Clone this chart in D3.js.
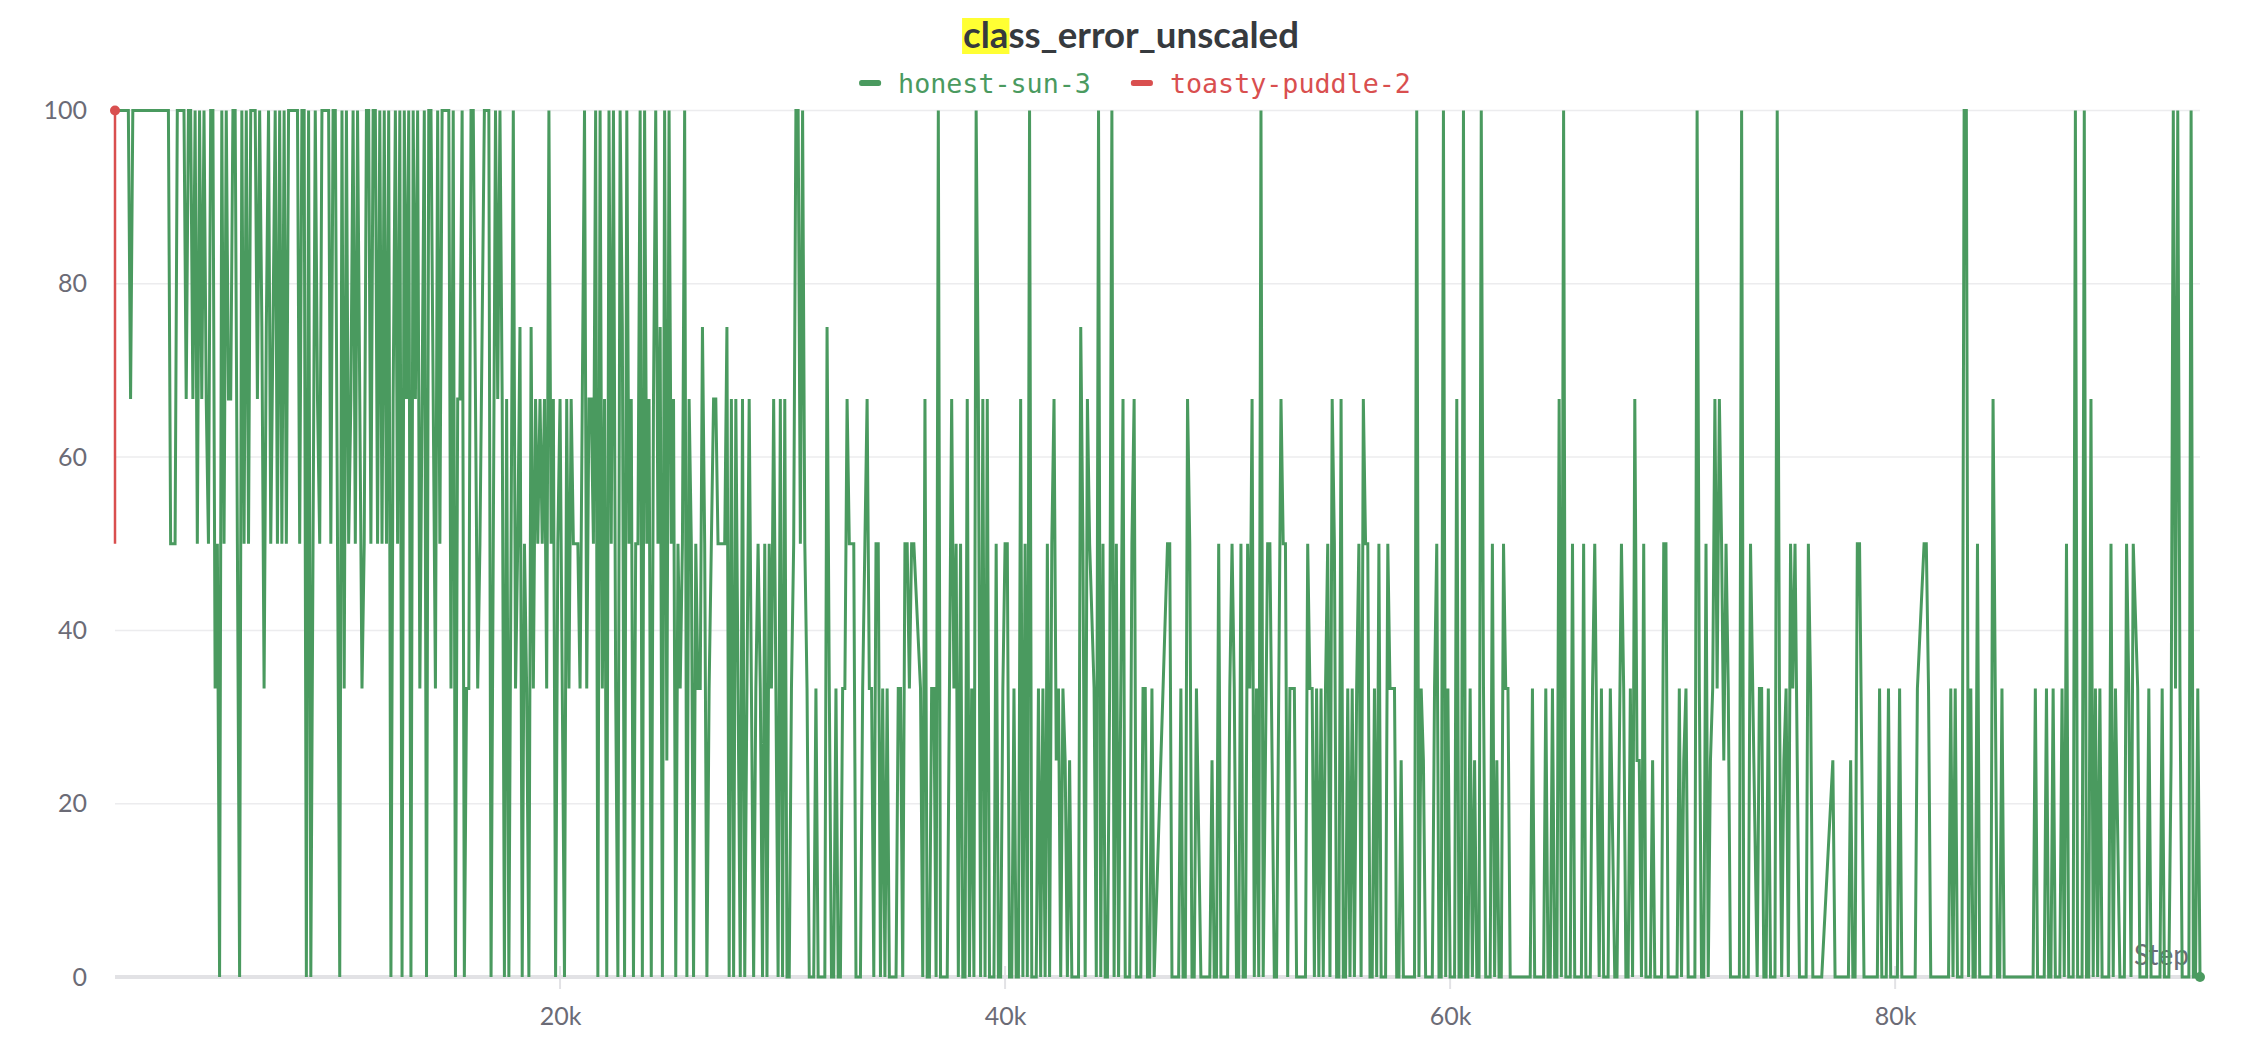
<!DOCTYPE html>
<html><head><meta charset="utf-8">
<script src="https://cdn.jsdelivr.net/npm/d3@7"></script>
<style>
html,body{margin:0;padding:0;background:#fff;}
svg{display:block;}
</style></head>
<body>
<svg id="chart" width="2244" height="1052"></svg>
<script>
// ---------------- data ----------------
const chartTitle = "class_error_unscaled";
const titleHighlight = "cla";
const seriesNames = ["honest-sun-3", "toasty-puddle-2"];
const seriesColors = ["#4a9a5f", "#d94f4f"];
const xAxisLabel = "Step";
const xTickValues = [20000, 40000, 60000, 80000];
const xTickLabels = ["20k", "40k", "60k", "80k"];
const yTickValues = [0, 20, 40, 60, 80, 100];
const stepInterval = 100;
const segmentStartSteps = [0, 15300, 31100, 46300, 61800, 77300];

// honest-sun-3 values, one per logged step (null = not logged)
const greenSegA = [100,100,100,100,100,100,100,66.7,
100,100,100,100,100,100,100,100,100,100,100,100,100,100,100,100,100,
50,50,50,100,100,100,100,
66.7,100,100,66.7,100,50,100,66.7,100,66.7,50,
100,100,33.3,50,0,100,50,100,66.7,66.7,
100,100,50,0,100,50,100,50,
100,100,100,66.7,100,75,33.3,75,100,50,75,100,50,100,50,100,50,
100,100,100,100,100,50,100,100,0,100,0,50,100,66.7,50,
100,100,100,100,50,100,100,50,0,100,33.3,100,50,66.7,100,50,100,66.7,33.3,50,
100,100,50,100,100,50,100,50,100,50,100,0,66.7,100,50,100,0,100,66.7,100,0,100,66.7,100,33.3,66.7,100,0,
100,100,66.7,33.3,100,50,100,100,100,100,33.3,100];
const greenSegB = [0,66.7,66.7,100,0,33.3,33.3,100,100,66.7,
33.3,50,75,100,100,100,0,50,100,66.7,
100,66.7,0,66.7,0,50,100,33.3,50,75,
0,50,33.3,0,75,33.3,66.7,50,66.7,50,
66.7,33.3,100,50,66.7,0,50,66.7,33.3,0,
66.7,33.3,66.7,50,50,50,33.3,66.7,100,33.3,
66.7,66.7,50,100,0,100,33.3,66.7,0,100,
50,100,33.3,0,100,75,0,100,50,66.7,
0,50,50,100,0,100,50,66.7,0,66.7,
100,50,75,0,100,25,100,50,66.7,0,
50,33.3,50,100,0,66.7,50,0,50,33.3,
33.3,75,50,0,33.3,50,66.7,66.7,50,50,
50,50,75,0,66.7,0,66.7,33.3,0,66.7,
0,33.3,66.7,33.3,0,33.3,50,33.3,0,50,
0,50,33.3,66.7,33.3,0,66.7,0,66.7,0,
0,33.3,50,100,100,50,100,50];
const greenSegC = [33.3,0,0,0,33.3,0,0,0,0,75,
33.3,0,0,33.3,0,0,33.3,33.3,66.7,50,
50,50,0,0,0,33.3,50,66.7,33.3,33.3,
0,50,50,0,33.3,0,33.3,0,0,0,
0,33.3,33.3,0,50,50,33.3,50,50,null,
null,33.3,0,66.7,0,0,33.3,33.3,0,100,
0,0,0,0,33.3,66.7,33.3,50,0,50,
0,0,66.7,0,33.3,0,100,66.7,0,66.7,
0,66.7,0,0,0,50,0,0,33.3,50,
50,0,0,33.3,0,0,66.7,0,50,0,
100,0,0,0,33.3,0,33.3,0,50,0,
50,66.7,25,33.3,0,33.3,25,0,25,0,
0,0,0,75,50,0,66.7,50,null,33.3,
0,100,0,50,0,0,33.3,100,0,50,
0,33.3,66.7,0,0,0,50,66.7,0,0,
0,33.3];
const greenSegD = [33.3,0,0,33.3,0,null,null,null,null,null,
50,50,0,0,0,0,33.3,0,0,66.7,
50,0,0,33.3,null,0,0,0,0,0,
25,0,0,50,0,0,0,0,33.3,50,
33.3,0,0,50,0,0,50,33.3,66.7,0,
33.3,0,100,0,25,50,50,null,0,0,
null,66.7,50,50,0,33.3,33.3,33.3,0,0,
0,0,0,50,33.3,33.3,0,33.3,0,33.3,
0,33.3,50,0,66.7,50,0,0,66.7,0,
0,33.3,0,33.3,0,33.3,50,0,66.7,50,
50,0,0,33.3,0,50,0,0,0,50,
33.3,33.3,33.3,0,0,25,0,0,0,0,
0,0,100,0,33.3,25,0,0,0,0,
33.3,50,0,0,100,0,33.3,0,0,0,
66.7,0,0,100,0,0,33.3,0,25,0,
0,100,33.3,0,0];
const greenSegE = [0,50,0,25,0,0,50,33.3,33.3,0,
0,0,0,0,0,0,0,0,0,33.3,
0,0,0,0,0,33.3,0,0,33.3,0,
0,66.7,0,100,0,0,0,50,0,0,
0,0,50,0,0,0,33.3,50,25,0,
33.3,0,0,0,33.3,null,0,0,25,50,
33.3,0,0,33.3,0,66.7,25,25,0,50,
0,0,0,25,0,0,0,0,50,50,
0,0,0,0,0,33.3,0,25,33.3,0,
0,0,0,100,33.3,0,0,50,0,25,
33.3,66.7,33.3,66.7,50,25,50,33.3,0,0,
0,0,0,100,0,0,0,50,33.3,null,
0,33.3,33.3,0,0,33.3,0,0,0,100,
33.3,0,25,33.3,0,50,33.3,50,25,0,
0,0,0,50,33.3,0,0,0,0,0,
null,null,null,null,25];
const greenSegF = [0,0,0,0,0,0,0,25,0,0,
50,50,25,0,0,0,0,0,0,0,
33.3,0,0,0,33.3,0,0,0,0,33.3,
0,0,0,0,0,0,0,33.3,null,null,
50,50,33.3,0,0,0,0,0,0,0,
0,0,33.3,0,33.3,0,0,0,100,100,
0,33.3,0,0,50,0,0,0,0,0,
0,66.7,33.3,0,0,33.3,0,0,0,0,
0,0,0,0,0,0,0,0,0,0,
33.3,0,0,0,0,33.3,0,0,33.3,0,
0,0,33.3,0,50,0,0,0,100,0,
0,0,100,0,0,66.7,0,33.3,0,33.3,
0,0,0,0,50,0,33.3,null,0,0,
0,50,33.3,0,50,null,33.3,0,0,0,
0,33.3,0,0,0,0,0,33.3,0,0,
0,25,100,33.3,100,33.3,0,0,0,0,
100,0,0,33.3,0];
const greenSegments = [greenSegA, greenSegB, greenSegC, greenSegD, greenSegE, greenSegF];

// toasty-puddle-2
const redSteps = [0, 0];
const redValues = [50, 100];

// ---------------- build ----------------
const greenData = [];
greenSegments.forEach((seg, k) => {
  seg.forEach((v, j) => {
    if (v !== null) greenData.push({step: segmentStartSteps[k] + j * stepInterval, value: v});
  });
});
const redData = redSteps.map((s, i) => ({step: s, value: redValues[i]}));

const plot = {left: 115, right: 2200, top: 110.5, bottom: 977};
const svg = d3.select("#chart");

const x = d3.scaleLinear().domain([0, d3.max(greenData, d => d.step)]).range([plot.left, plot.right]);
const y = d3.scaleLinear().domain([0, 100]).range([plot.bottom, plot.top]);

const tickFont = "Lato, 'Source Sans Pro', 'Open Sans', sans-serif";
const tickColor = "#6b6b76";

// gridlines
svg.append("g").selectAll("line")
  .data(yTickValues.filter(v => v > 0))
  .join("line")
  .attr("x1", plot.left).attr("x2", plot.right)
  .attr("y1", d => y(d)).attr("y2", d => y(d))
  .attr("stroke", "#ececee").attr("stroke-width", 1.5);

// baseline axis line
svg.append("line")
  .attr("x1", plot.left).attr("x2", plot.right)
  .attr("y1", y(0)).attr("y2", y(0))
  .attr("stroke", "#e2e2e5").attr("stroke-width", 4);

// x tick marks
svg.append("g").selectAll("line")
  .data(xTickValues).join("line")
  .attr("x1", d => x(d)).attr("x2", d => x(d))
  .attr("y1", y(0) - 11).attr("y2", y(0) + 12)
  .attr("stroke", "#e2e2e5").attr("stroke-width", 2);

// y axis
const yAxis = d3.axisLeft(y).tickValues(yTickValues).tickSize(0).tickPadding(28);
const gy = svg.append("g").attr("transform", `translate(${plot.left},0)`).call(yAxis);
gy.select(".domain").remove();
gy.selectAll("text").attr("font-family", tickFont).attr("font-size", 25).attr("fill", tickColor);

// x axis
const xAxis = d3.axisBottom(x).tickValues(xTickValues).tickFormat((d, i) => xTickLabels[i]).tickSize(0).tickPadding(30);
const gx = svg.append("g").attr("transform", `translate(0,${plot.bottom})`).call(xAxis);
gx.select(".domain").remove();
gx.selectAll("text").attr("font-family", tickFont).attr("font-size", 25).attr("fill", tickColor);

// Step label
svg.append("text")
  .attr("x", 2189).attr("y", 965)
  .attr("text-anchor", "end")
  .attr("font-family", tickFont).attr("font-size", 28)
  .attr("fill", tickColor)
  .text(xAxisLabel);

// lines
const line = d3.line().x(d => x(d.step)).y(d => y(d.value));
svg.append("path").datum(greenData)
  .attr("d", line).attr("fill", "none")
  .attr("stroke", seriesColors[0]).attr("stroke-width", 3);
svg.append("path").datum(redData)
  .attr("d", line).attr("fill", "none")
  .attr("stroke", seriesColors[1]).attr("stroke-width", 2.5);

// end dots
const gLast = greenData[greenData.length - 1];
svg.append("circle").attr("cx", x(gLast.step)).attr("cy", y(gLast.value)).attr("r", 5).attr("fill", seriesColors[0]);
const rLast = redData[redData.length - 1];
svg.append("circle").attr("cx", x(rLast.step)).attr("cy", y(rLast.value)).attr("r", 5).attr("fill", seriesColors[1]);

// title
const titleCenter = 1131, titleBaseline = 48, titleTargetWidth = 336;
const titleG = svg.append("g");
const hlRect = titleG.append("rect").attr("fill", "#ffff33");
const titleText = titleG.append("text")
  .attr("x", titleCenter).attr("y", titleBaseline)
  .attr("text-anchor", "middle")
  .attr("font-family", "Lato, 'Source Sans Pro', 'Open Sans', sans-serif")
  .attr("font-weight", 700)
  .attr("font-size", 36)
  .attr("fill", "#363a3e")
  .text(chartTitle);
let tl = titleText.node().getComputedTextLength();
const fs = 36 * titleTargetWidth / tl;
titleText.attr("font-size", fs);
tl = titleText.node().getComputedTextLength();
const hlW = titleText.node().getSubStringLength(0, titleHighlight.length);
hlRect.attr("x", titleCenter - tl / 2 - 1).attr("y", 18).attr("width", hlW + 2).attr("height", 36);

// legend
const legendFont = "'DejaVu Sans Mono', 'Liberation Mono', monospace";
const legendY = 83;
const legendG = svg.append("g");
const items = seriesNames.map((name, i) => {
  const g = legendG.append("g");
  g.append("rect").attr("x", 0).attr("y", -3).attr("width", 22).attr("height", 6).attr("rx", 2.5)
    .attr("fill", seriesColors[i]);
  const t = g.append("text").attr("x", 39).attr("y", 0)
    .attr("dominant-baseline", "central")
    .attr("font-family", legendFont).attr("font-size", 26.7)
    .attr("fill", seriesColors[i]).text(name);
  return {g, w: 39 + t.node().getComputedTextLength()};
});
const gap = 40;
const totalW = d3.sum(items, d => d.w) + gap * (items.length - 1);
let cx = 1135 - totalW / 2;
items.forEach(it => { it.g.attr("transform", `translate(${cx},${legendY})`); cx += it.w + gap; });
</script>
</body></html>
